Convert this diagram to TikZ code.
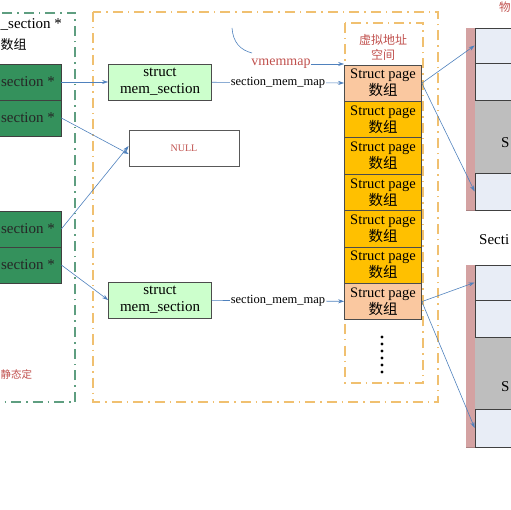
\documentclass[tikz,border=0pt]{standalone}
\usepackage{fontspec}
\setmainfont{Liberation Serif}
\newfontfamily\cjk{Noto Sans CJK SC}
\usepackage{xcolor}
\usetikzlibrary{positioning}
\usetikzlibrary{arrows.meta}
\definecolor{secgreen}{RGB}{52,145,92}
\definecolor{memgreen}{RGB}{204,255,204}
\definecolor{pagegold}{RGB}{255,192,0}
\definecolor{pagepeach}{RGB}{250,200,160}
\definecolor{linkblue}{RGB}{79,129,189}
\definecolor{framegreen}{RGB}{94,158,128}
\definecolor{frameorange}{RGB}{240,192,112}
\definecolor{labelred}{RGB}{192,80,77}
\definecolor{physgray}{RGB}{190,190,190}
\definecolor{physblue}{RGB}{232,237,246}
\definecolor{physpink}{RGB}{212,162,162}

\begin{document}
\begin{tikzpicture}[x=1pt, y=-1pt]
% Define styles
\tikzstyle{secbox} = [rectangle, draw=black!75, fill=secgreen, minimum width=66pt, minimum height=36pt, line width=0.7pt, font=\fontsize{15}{17}\selectfont, text=black!85]
\tikzstyle{membox} = [rectangle, draw=black!70, fill=memgreen, minimum width=103pt, minimum height=36pt, line width=0.7pt, align=center, inner sep=0pt, font=\fontsize{15}{17}\selectfont]
\tikzstyle{pagebox} = [rectangle, draw=black!70, fill=pagegold, minimum width=77pt, minimum height=36.4pt, line width=0.7pt, align=center, inner sep=0pt, font=\fontsize{14.5}{17}\selectfont]
\tikzstyle{physbox} = [rectangle, draw=black!75, fill=physblue, minimum width=65pt, line width=0.7pt, inner sep=0pt]
\tikzstyle{link} = [draw=linkblue, line width=0.6pt, -{Stealth[length=6pt, width=4pt]}]
\tikzstyle{frame} = [line width=1.8pt, dash pattern=on 10pt off 5pt on 1.5pt off 5pt]
\tikzstyle{redlabel} = [text=labelred, inner sep=0pt]
\useasboundingbox (0,0) rectangle (511,510);
% Frames
\draw[frame, framegreen] (-30,13) rectangle (75,402);
\draw[frame, frameorange] (93,12) rectangle (438,402);
\draw[frame, frameorange] (345,23) rectangle (423,383);
% Physical memory blocks
\filldraw[fill=physgray, draw=physpink!80!black, line width=0.7pt] (466,28) rectangle (545,210);
\fill[physpink] (466.4,28.4) rectangle (475,209.6);
\filldraw[fill=physgray, draw=physpink!80!black, line width=0.7pt] (466,265) rectangle (545,447);
\fill[physpink] (466.4,265.4) rectangle (475,446.6);
\node[physbox, minimum height=35pt] (phys_a1) at (507.5,45.5) {};
\node[physbox, minimum height=37pt] (phys_a2) at (507.5,81.5) {};
\node[physbox, minimum height=37pt] (phys_a3) at (507.5,191.5) {};
\node[physbox, minimum height=35pt] (phys_b1) at (507.5,282.5) {};
\node[physbox, minimum height=37pt] (phys_b2) at (507.5,318.5) {};
\node[physbox, minimum height=38pt] (phys_b3) at (507.5,428) {};
\node[anchor=west, inner sep=0pt, font=\fontsize{15}{17}\selectfont] (phys_a_name) at (501,143) {S};
\node[anchor=west, inner sep=0pt, font=\fontsize{15}{17}\selectfont] (phys_b_name) at (501,387) {S};
\node[anchor=west, inner sep=0pt, font=\fontsize{15}{17}\selectfont] (secti) at (479,240) {Secti};
\node[redlabel, anchor=west, font=\cjk\fontsize{11.5}{13}\selectfont] (phys_title) at (499,7) {物};
% Define nodes
\node[anchor=west, inner sep=0pt, font=\fontsize{15}{17}\selectfont] (sec_title) at (0.5,25) {\_section *};
\node[anchor=west, inner sep=0pt, font=\cjk\fontsize{13}{15}\selectfont] (sec_title2) at (0.5,45) {数组};
\node[secbox] (sec_1) at (28,82) {section *};
\node[secbox] (sec_2) at (28,118) {section *};
\node[secbox] (sec_3) at (28,229) {section *};
\node[secbox] (sec_4) at (28,265) {section *};
\node[redlabel, anchor=west, font=\cjk\fontsize{10.5}{13}\selectfont] (static_note) at (0.5,374) {静态定};
\node[membox] (mem_1) at (160,82) {struct\\mem\_section};
\node[membox] (mem_2) at (160,300) {struct\\mem\_section};
\node[rectangle, draw=black!65, fill=white, minimum width=110pt, minimum height=36pt, line width=0.7pt, text=labelred, font=\fontsize{10}{12}\selectfont] (null) at (184,148) {NULL};
\node[redlabel, font=\fontsize{14}{16}\selectfont] (vmemmap) at (281,64) {vmemmap};
\node[redlabel, font=\cjk\fontsize{12}{14}\selectfont] (virt_1) at (383,40) {虚拟地址};
\node[redlabel, font=\cjk\fontsize{12}{14}\selectfont] (virt_2) at (383,55) {空间};
\node[pagebox, fill=pagepeach] (page_1) at (383,83.2) {Struct page\\{\cjk 数组}};
\node[pagebox] (page_2) at (383,119.6) {Struct page\\{\cjk 数组}};
\node[pagebox] (page_3) at (383,156) {Struct page\\{\cjk 数组}};
\node[pagebox] (page_4) at (383,192.4) {Struct page\\{\cjk 数组}};
\node[pagebox] (page_5) at (383,228.8) {Struct page\\{\cjk 数组}};
\node[pagebox] (page_6) at (383,265.2) {Struct page\\{\cjk 数组}};
\node[pagebox, fill=pagepeach] (page_7) at (383,301.6) {Struct page\\{\cjk 数组}};
\foreach \y in {337,344,...,372} \fill (382,\y) circle (1.7pt);
\coordinate (curve_start) at (232,28);
\coordinate (curve_end) at (252,53);
% Connect the nodes
\draw[link] (sec_1) -- (mem_1);
\draw[link] (sec_2.east) -- ([yshift=-6pt]null.west);
\draw[link] (sec_3.east) -- ([yshift=2pt]null.west);
\draw[link] (sec_4.east) -- (mem_2.west);
\draw[link] (mem_1) -- node[fill=white, inner sep=1pt, font=\fontsize{12.5}{14}\selectfont] {section\_mem\_map} (page_1);
\draw[link] (mem_2) -- node[fill=white, inner sep=1pt, font=\fontsize{12.5}{14}\selectfont] {section\_mem\_map} (page_7);
\draw[link] (vmemmap.east) -- (vmemmap.east -| page_1.west);
\draw[linkblue, line width=0.6pt] (curve_start) .. controls (233,42) and (240,50) .. (curve_end);
\draw[link] (page_1.east) -- (phys_a1.west);
\draw[link] (page_1.east) -- (phys_a3.west);
\draw[link] (page_7.east) -- (phys_b1.west);
\draw[link] (page_7.east) -- (phys_b3.west);
\end{tikzpicture}
\end{document}
